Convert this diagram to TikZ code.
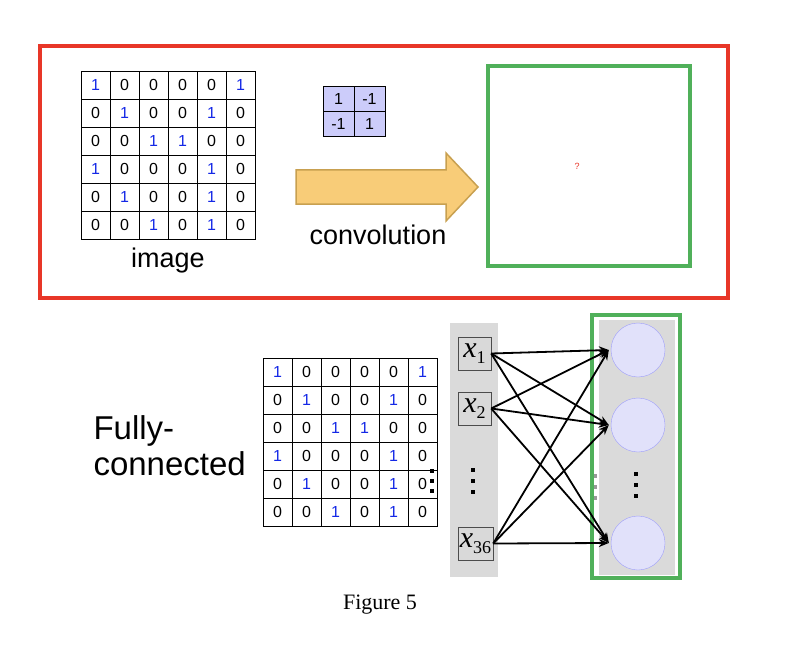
\documentclass[tikz,border=0pt]{standalone}
\usepackage{fontspec}
\setmainfont{Liberation Sans}
\newfontfamily\seriffont{Liberation Serif}
\usetikzlibrary{arrows.meta}
\definecolor{nblue}{RGB}{20,40,230}
\definecolor{kfill}{RGB}{204,204,250}
\definecolor{redb}{RGB}{232,54,40}
\definecolor{greenb}{RGB}{80,176,90}
\definecolor{arrowf}{RGB}{248,204,120}
\definecolor{arrowd}{RGB}{200,160,80}
\definecolor{graycol}{RGB}{218,218,218}
\definecolor{circf}{RGB}{225,225,250}
\tikzset{
 cell/.style={draw,line width=0.9pt,minimum width=29pt,minimum height=28pt,inner sep=0pt,font=\fontsize{16}{16}\selectfont},
 kcell/.style={draw,line width=0.9pt,fill=kfill,minimum width=31pt,minimum height=25pt,inner sep=0pt,font=\fontsize{16}{16}\selectfont},
 xbox/.style={draw=black!70,fill=black!15,minimum width=33pt,minimum height=33pt,inner sep=0pt,font=\seriffont\itshape\fontsize{30}{30}\selectfont},
 neuron/.style={circle,draw=circf!70!blue,fill=circf,minimum size=54pt,inner sep=0pt},
 conn/.style={line width=1.8pt,-{Stealth[length=10pt,width=8pt]}},
 dot/.style={fill=black,minimum size=3.5pt,inner sep=0pt}
}
\newcommand{\mymatrix}[3]{%
 \foreach \r/\row in {1/{1,0,0,0,0,1},2/{0,1,0,0,1,0},3/{0,0,1,1,0,0},4/{1,0,0,0,1,0},5/{0,1,0,0,1,0},6/{0,0,1,0,1,0}}{
  \foreach \v [count=\c] in \row {
   \ifnum\v=1 \def\tc{nblue}\else\def\tc{black}\fi
   \node[cell,text=\tc] (#3-\r-\c) at ({#1+14.5+29*(\c-1)},{#2+14+28*(\r-1)}) {\v};
  }}}
\begin{document}
\begin{tikzpicture}[x=1pt,y=-1pt]
\useasboundingbox (0,0) rectangle (806,666);
% top
\draw[redb,line width=4pt] (40,46) rectangle (728,298);
\mymatrix{81}{71}{a}
\node[font=\fontsize{27}{27}\selectfont] (img) at (168,261) {image};
\node[kcell] (k11) at (338.5,98.5) {1};
\node[kcell] (k12) at (369.5,98.5) {-1};
\node[kcell] (k21) at (338.5,123.5) {-1};
\node[kcell] (k22) at (369.5,123.5) {1};
\draw[arrowd,fill=arrowf,line width=1.5pt] (296,170) -- (446,170) -- (446,153) -- (478,187) -- (446,221) -- (446,204) -- (296,204) -- cycle;
\node[font=\fontsize{27}{27}\selectfont] (conv) at (378,235) {convolution};
\draw[greenb,line width=4pt] (488,66) rectangle (690,266);
\node[text=redb,font=\fontsize{9}{9}\selectfont] (q) at (577,166) {?};
% bottom
\node[font=\fontsize{33}{36}\selectfont,align=left,anchor=west] (fc) at (90,446) {Fully-\\connected};
\mymatrix{263}{358}{b}
\node[dot] (bd1) at (432,471) {};
\node[dot] (bd2) at (432,481) {};
\node[dot] (bd3) at (432,491) {};
\fill[graycol] (450,323) rectangle (498,577);
\fill[graycol] (599,320) rectangle (675,575);
\node[xbox] (x1) at (474.5,353.5) {x\raisebox{-6pt}{\fontsize{18}{18}\selectfont\upshape 1}};
\node[xbox] (x2) at (474.5,408.5) {x\raisebox{-6pt}{\fontsize{18}{18}\selectfont\upshape 2}};
\node[xbox,minimum width=35pt] (x36) at (475.5,543.5) {x\raisebox{-6pt}{\fontsize{18}{18}\selectfont\upshape 36}};
\node[dot] (d1) at (473,470) {};
\node[dot] (d2) at (473,481) {};
\node[dot] (d3) at (473,492) {};
\node[neuron] (n1) at (638,350) {};
\node[neuron] (n2) at (638,425) {};
\node[neuron] (n3) at (638,543) {};
\node[dot] (e1) at (636,474) {};
\node[dot] (e2) at (636,485) {};
\node[dot] (e3) at (636,496) {};
\node[dot,fill=black!40] (f1) at (595,476) {};
\node[dot,fill=black!40] (f2) at (595,487) {};
\node[dot,fill=black!40] (f3) at (595,498) {};
\draw[greenb,line width=4pt] (592,315) rectangle (680,578);
\foreach \s in {x1,x2,x36}{
 \foreach \t in {n1,n2,n3}{
  \draw[conn] (\s.east) -- ([xshift=-2pt]\t.west);
 }}
\node[font=\seriffont\fontsize{22}{22}\selectfont] (fig) at (380,605) {Figure 5};
\end{tikzpicture}
\end{document}
